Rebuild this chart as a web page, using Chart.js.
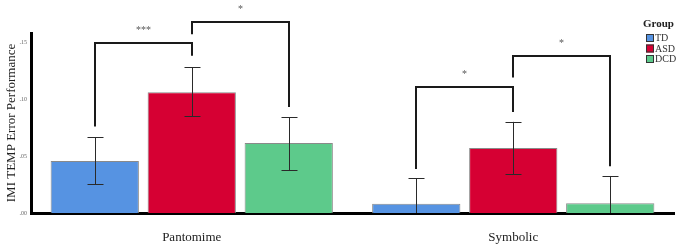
<!DOCTYPE html>
<html><head><meta charset="utf-8">
<script src="https://cdn.jsdelivr.net/npm/chart.js@4/dist/chart.umd.min.js"></script>
<style>html,body{margin:0;padding:0;background:#fff}#w{width:685px;height:244px}</style>
</head><body><div id="w"><canvas id="c"></canvas></div>
<script>
const categories = ['Pantomime', 'Symbolic'];
const groups = ['TD', 'ASD', 'DCD'];
const tdValues = [0.0456, 0.0082];
const asdValues = [0.106, 0.057];
const dcdValues = [0.0614, 0.0085];
const tdLow = [0.0254, -0.0143];
const tdHigh = [0.0667, 0.0307];
const asdLow = [0.085, 0.034];
const asdHigh = [0.128, 0.080];
const dcdLow = [0.0377, -0.0155];
const dcdHigh = [0.084, 0.0325];
const yTicks = [0, 0.05, 0.10, 0.15];
const yTickLabels = ['.00', '.05', '.10', '.15'];
// significance brackets: category index, from group, to group, top, left leg end, right leg end, label
const bracketCat = [0, 0, 1, 1];
const bracketFrom = [0, 1, 0, 1];
const bracketTo = [1, 2, 1, 2];
const bracketTop = [0.149, 0.1675, 0.111, 0.1377];
const bracketLeftEnd = [0.076, 0.157, 0.0386, 0.119];
const bracketRightEnd = [0.138, 0.093, 0.0886, 0.041];
const bracketLabel = ['***', '*', '*', '*'];

const colors = ['#5693e2', '#d60033', '#5dca8b'];
const lows = [tdLow, asdLow, dcdLow];
const highs = [tdHigh, asdHigh, dcdHigh];

const serif = '"Liberation Serif", "Times New Roman", serif';

const extras = {
  id: 'extras',
  afterDatasetsDraw(chart) {
    const ctx = chart.ctx, y = chart.scales.y, a = chart.chartArea;
    // error bars
    ctx.save();
    ctx.beginPath();
    ctx.rect(a.left, a.top - 40, a.right - a.left, a.bottom - a.top + 40);
    ctx.clip();
    ctx.strokeStyle = '#2a2a2a';
    ctx.lineWidth = 1;
    for (let d = 0; d < 3; d++) {
      const meta = chart.getDatasetMeta(d);
      meta.data.forEach((bar, i) => {
        const x = Math.round(bar.x) + 0.5;
        const yl = y.getPixelForValue(lows[d][i]);
        const yh = y.getPixelForValue(highs[d][i]);
        ctx.beginPath();
        ctx.moveTo(x, yl); ctx.lineTo(x, yh);
        ctx.moveTo(x - 8, Math.round(yh) + 0.5); ctx.lineTo(x + 8, Math.round(yh) + 0.5);
        if (yl < a.bottom) { ctx.moveTo(x - 8, Math.round(yl) + 0.5); ctx.lineTo(x + 8, Math.round(yl) + 0.5); }
        ctx.stroke();
      });
    }
    ctx.restore();
    // brackets
    ctx.save();
    ctx.strokeStyle = '#1a1a1a';
    ctx.lineWidth = 2;
    ctx.fillStyle = '#555';
    ctx.font = '10px ' + serif;
    ctx.textAlign = 'center';
    ctx.textBaseline = 'middle';
    for (let k = 0; k < bracketCat.length; k++) {
      const c = bracketCat[k];
      const x1 = Math.round(chart.getDatasetMeta(bracketFrom[k]).data[c].x);
      const x2 = Math.round(chart.getDatasetMeta(bracketTo[k]).data[c].x);
      const yt = Math.round(y.getPixelForValue(bracketTop[k]));
      ctx.beginPath();
      ctx.moveTo(x1, y.getPixelForValue(bracketLeftEnd[k]));
      ctx.lineTo(x1, yt);
      ctx.lineTo(x2, yt);
      ctx.lineTo(x2, y.getPixelForValue(bracketRightEnd[k]));
      ctx.stroke();
      ctx.fillText(bracketLabel[k], (x1 + x2) / 2, yt - 13);
    }
    ctx.restore();
    // legend
    ctx.save();
    ctx.fillStyle = '#222';
    ctx.textAlign = 'left';
    ctx.textBaseline = 'middle';
    ctx.font = 'bold 11px ' + serif;
    ctx.fillText('Group', 643, 24);
    ctx.font = '10px ' + serif;
    groups.forEach((g, i) => {
      const yy = 38 + i * 10.5;
      ctx.fillStyle = colors[i];
      ctx.fillRect(646, yy - 4, 8, 8);
      ctx.strokeStyle = '#333';
      ctx.lineWidth = 1;
      ctx.strokeRect(646.5, yy - 3.5, 7, 7);
      ctx.fillStyle = '#333';
      ctx.fillText(g, 655, yy + 0.5);
    });
    ctx.restore();
  }
};

new Chart(document.getElementById('c'), {
  type: 'bar',
  data: {
    labels: categories,
    datasets: [
      { label: groups[0], data: tdValues, backgroundColor: colors[0] },
      { label: groups[1], data: asdValues, backgroundColor: colors[1] },
      { label: groups[2], data: dcdValues, backgroundColor: colors[2] }
    ].map(d => Object.assign(d, { borderColor: '#8a8a8a', borderWidth: 1, borderSkipped: 'bottom', categoryPercentage: 0.905, barPercentage: 0.91 }))
  },
  options: {
    responsive: true,
    maintainAspectRatio: false,
    animation: false,
    events: [],
    layout: { padding: { top: 33, right: 11, left: 0, bottom: 0 } },
    plugins: { legend: { display: false }, tooltip: { enabled: false } },
    scales: {
      x: {
        grid: { display: false, drawTicks: false },
        border: { display: true, color: '#000', width: 3 },
        ticks: { color: '#222', font: { family: serif, size: 13 }, padding: 17 },
        afterFit(s) { s.height = 31; }
      },
      y: {
        min: 0, max: 0.158,
        grid: { display: false, drawTicks: false },
        border: { display: true, color: '#000', width: 3 },
        afterBuildTicks(s) { s.ticks = yTicks.map(v => ({ value: v })); },
        ticks: {
          color: '#666', font: { family: serif, size: 6 }, padding: 4,
          callback: (v) => { const i = yTicks.findIndex(t => Math.abs(t - v) < 1e-9); return i >= 0 ? yTickLabels[i] : ''; }
        },
        title: { display: true, text: 'IMI TEMP Error Performance', color: '#222', font: { family: serif, size: 13 }, padding: { top: 4, bottom: 0 } },
        afterFit(s) { s.width = 31; }
      }
    }
  },
  plugins: [extras]
});
</script>
</body></html>
